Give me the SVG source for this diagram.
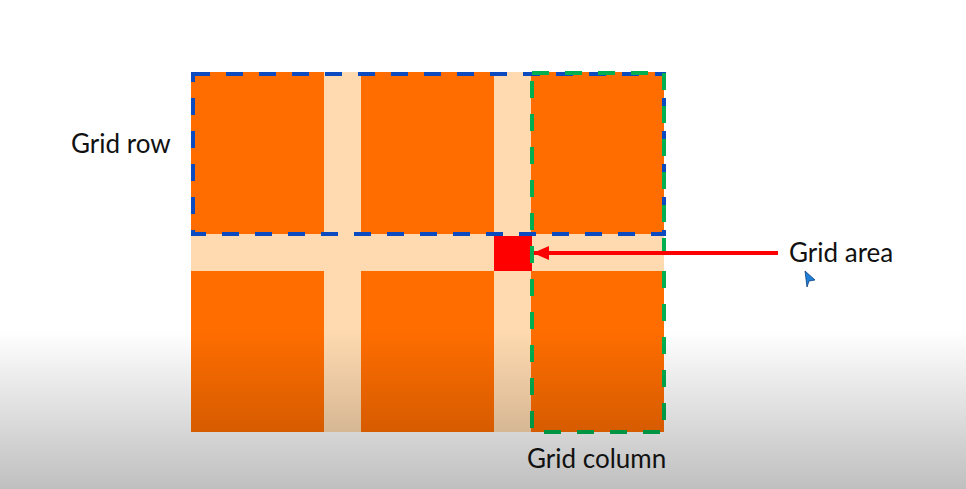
<svg xmlns="http://www.w3.org/2000/svg" width="966" height="489" viewBox="0 0 966 489">
<defs>
<linearGradient id="shade" x1="0" y1="0" x2="0" y2="1">
<stop offset="0" stop-color="#000" stop-opacity="0"/>
<stop offset="1" stop-color="#000" stop-opacity="0.25"/>
</linearGradient>
<marker id="ah" markerWidth="16" markerHeight="14" refX="15" refY="7" orient="auto" markerUnits="userSpaceOnUse" viewBox="0 0 16 14">
<path d="M0,0 L16,7 L0,14 z" fill="#ff0000"/>
</marker>
</defs>
<style>
.cell{fill:#ff6d00}
.gap{fill:#ffdab0}
.lbl{font-family:Lato,"Open Sans",sans-serif;font-size:26px;fill:#111}
.blue{fill:none;stroke:#0c4bbf;stroke-width:4;stroke-dasharray:17 16}
.green{fill:none;stroke:#00b050;stroke-width:4;stroke-dasharray:17 16}
</style>
<rect width="966" height="489" fill="#fff"/>
<g id="grid">
<rect class="gap" x="191" y="72" width="473" height="360"/>
<rect class="cell" x="191" y="72" width="133" height="162"/>
<rect class="cell" x="361" y="72" width="133" height="162"/>
<rect class="cell" x="531" y="72" width="133" height="162"/>
<rect class="cell" x="191" y="271" width="133" height="161"/>
<rect class="cell" x="361" y="271" width="133" height="161"/>
<rect class="cell" x="531" y="271" width="133" height="161"/>
</g>
<g id="grid-area">
<rect x="494" y="236" width="38" height="35" fill="#ff0000"/>
</g>
<g id="grid-row">
<rect class="blue" x="193" y="74" width="471" height="160"/>
</g>
<g id="grid-column">
<rect class="green" x="532" y="73" width="132" height="359"/>
</g>
<g id="connectors">
<line x1="778" y1="253" x2="534" y2="253" stroke="#ff0000" stroke-width="4" marker-end="url(#ah)"/>
</g>
<rect x="0" y="330" width="966" height="159" fill="url(#shade)"/>
<g id="labels">
<text class="lbl" x="71" y="153">Grid row</text>
<text class="lbl" x="789" y="262">Grid area</text>
<text class="lbl" x="527" y="468">Grid column</text>
</g>
<polygon points="805,271 815,280 809,281 807,287" fill="#1f7fd6" stroke="#0a3f80" stroke-width="0.8"/>
</svg>
